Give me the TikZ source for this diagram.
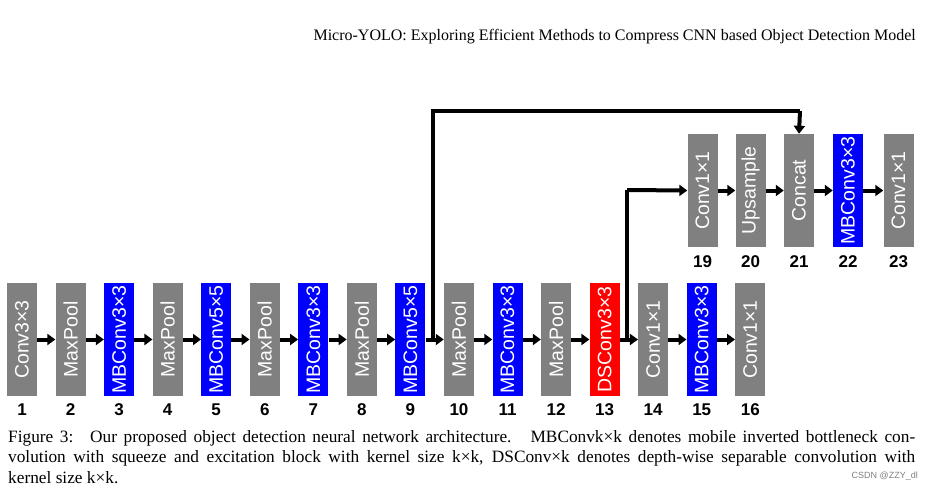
\documentclass[tikz,border=0pt]{standalone}
\usepackage{fontspec}
\setmainfont{Liberation Serif}
\newfontfamily\boxfont{Liberation Sans}
\usetikzlibrary{arrows.meta}
\definecolor{gbox}{RGB}{128,128,128}
\definecolor{bbox}{RGB}{0,0,255}
\definecolor{rbox}{RGB}{255,0,0}
\tikzset{
 blk/.style={fill=#1,draw=none,minimum width=30pt,minimum height=113pt,inner sep=0pt,
   text=white,font=\boxfont\fontsize{19.5}{20}\selectfont},
 num/.style={font=\boxfont\bfseries\fontsize{17}{18}\selectfont,inner sep=0pt},
 arr/.style={line width=4pt,-{Triangle[length=8pt,width=11pt]}},
 ln/.style={line width=4pt}
}
\begin{document}
\begin{tikzpicture}[x=1pt,y=-1pt]
\useasboundingbox (0,0) rectangle (934,491);
\node[anchor=east,font=\fontsize{16}{18}\selectfont,inner sep=0pt] (hdr) at (916,37) {Micro-YOLO: Exploring Efficient Methods to Compress CNN based Object Detection Model};
% bottom row
\foreach \i/\t/\c in {1/Conv3×3/gbox,2/MaxPool/gbox,3/MBConv3×3/bbox,4/MaxPool/gbox,5/MBConv5×5/bbox,6/MaxPool/gbox,7/MBConv3×3/bbox,8/MaxPool/gbox,9/MBConv5×5/bbox,10/MaxPool/gbox,11/MBConv3×3/bbox,12/MaxPool/gbox,13/DSConv3×3/rbox,14/Conv1×1/gbox,15/MBConv3×3/bbox,16/Conv1×1/gbox}{
  \node[blk=\c] (b\i) at ({22+(\i-1)*48.55},339.5) {\rotatebox{90}{\t}};
  \node[num] (n\i) at ({22+(\i-1)*48.55},410) {\i};
}
% top row
\foreach \i/\t/\c/\x in {19/Conv1×1/gbox/702.5,20/Upsample/gbox/750.5,21/Concat/gbox/799,22/MBConv3×3/bbox/848,23/Conv1×1/gbox/898.5}{
  \node[blk=\c] (b\i) at (\x,190.5) {\rotatebox{90}{\t}};
  \node[num] (n\i) at (\x,262) {\i};
}
\foreach \a/\b in {1/2,2/3,3/4,4/5,5/6,6/7,7/8,8/9,9/10,10/11,11/12,12/13,13/14,14/15,15/16,19/20,20/21,21/22,22/23}
  \draw[arr] (b\a.east) -- (b\b.west);
\coordinate (s1) at (433,340);
\coordinate (s2) at (433,111);
\coordinate (s3) at (800,111);
\draw[ln] (s1) -- (s2) -- (s3);
\draw[arr] (s3) -- (b21.north);
\coordinate (t1) at (627,340);
\coordinate (t2) at (627,190);
\draw[ln] (t1) -- (t2);
\draw[arr] (t2) -- (b19.west);
\node[anchor=north west,inner sep=0pt,text width=907pt,align=justify,font=\fontsize{17.3}{20.5}\selectfont] (cap) at (8,430) {Figure 3: \ Our proposed object detection neural network architecture. \ MBConvk×k denotes mobile inverted bottleneck con-\linebreak volution with squeeze and excitation block with kernel size k×k, DSConv×k denotes depth-wise separable convolution with\linebreak kernel size k×k.};
\node[anchor=east,inner sep=0pt,text=gray,font=\boxfont\fontsize{9}{10}\selectfont] (wm) at (918,476) {CSDN @ZZY\_dl};
\end{tikzpicture}
\end{document}
